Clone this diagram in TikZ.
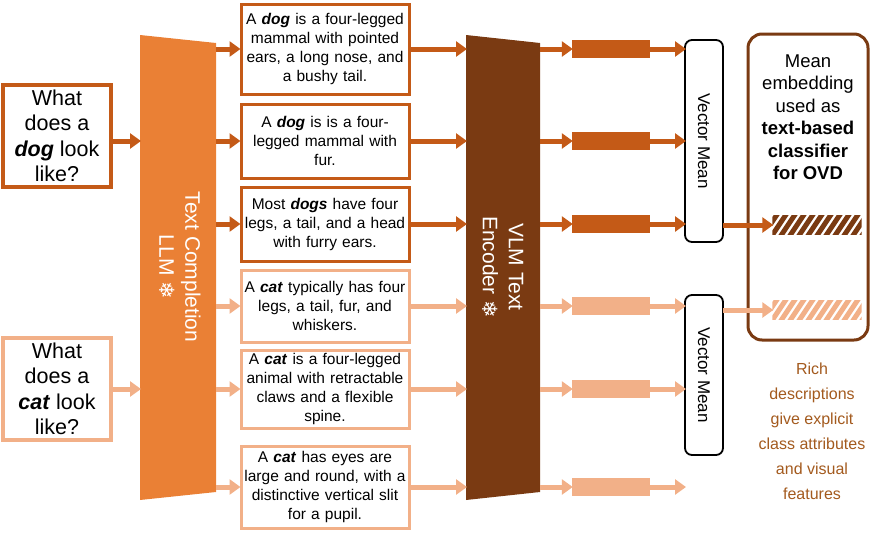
\documentclass[tikz,border=0pt]{standalone}
\usepackage{fontspec}
\setmainfont{Liberation Sans}
\newfontfamily\djv{DejaVu Sans}
\usetikzlibrary{arrows.meta,positioning}
\definecolor{dogc}{HTML}{C45A17}
\definecolor{catc}{HTML}{F2B088}
\definecolor{llmc}{HTML}{EA8035}
\definecolor{encc}{HTML}{7A3A12}
\definecolor{richc}{HTML}{A35A1E}
\newcommand{\snow}{{\djv ❄}}
\begin{document}
\begin{tikzpicture}[x=1pt,y=-1pt,
  desc/.style={draw, line width=3pt, fill=white, align=center, font=\fontsize{15.5}{19}\selectfont, text width=166pt, inner sep=1pt},
  dogd/.style={desc, draw=dogc},
  catd/.style={desc, draw=catc},
  q/.style={draw, line width=3.5pt, align=center, font=\fontsize{21.5}{25.5}\selectfont, minimum width=108pt, minimum height=102pt, inner sep=1pt},
  arr/.style={line width=5pt, -{Triangle[length=11pt,width=15pt]}, shorten >=-1pt},
  bar/.style={minimum width=78pt, minimum height=18pt, inner sep=0pt},
  vm/.style={draw, line width=1.8pt, rounded corners=7pt, minimum width=38pt, inner sep=0pt}
]
\useasboundingbox (0,0) rectangle (878,547);
% question boxes
\node[q, draw=dogc] (qd) at (57,136) {What\\does a\\\textbf{\textit{dog}} look\\like?};
\node[q, draw=catc] (qc) at (57,389) {What\\does a\\\textbf{\textit{cat}} look\\like?};
% LLM
\fill[llmc] (140,35) -- (216,43) -- (216,492) -- (140,500) -- cycle;
\node[rotate=-90, text=white, align=center, font=\fontsize{21}{26}\selectfont] (llm) at (180,267) {Text Completion\\LLM \snow};
\coordinate (llmL1) at (140,141); \coordinate (llmL2) at (140,389);
% encoder
\fill[encc] (466,35) -- (540,43) -- (540,492) -- (466,500) -- cycle;
\node[rotate=-90, text=white, align=center, font=\fontsize{21}{26}\selectfont] (enc) at (503,267) {VLM Text\\Encoder \snow};
% descriptions
\node[dogd, minimum height=90pt] (d1) at (325,49) {A \textbf{\textit{dog}} is a four-legged\\mammal with pointed\\ears, a long nose, and\\a bushy tail.};
\node[dogd, minimum height=74pt] (d2) at (325,141) {A \textbf{\textit{dog}} is is a four-\\legged mammal with\\fur.};
\node[dogd, minimum height=74pt] (d3) at (325,224) {Most \textbf{\textit{dogs}} have four\\legs, a tail, and a head\\with furry ears.};
\node[catd, minimum height=72pt] (c1) at (325,306) {A \textbf{\textit{cat}} typically has four\\legs, a tail, fur, and\\whiskers.};
\node[catd, minimum height=78pt] (c2) at (325,389) {A \textbf{\textit{cat}} is a four-legged\\animal with retractable\\claws and a flexible\\spine.};
\node[catd, minimum height=82pt] (c3) at (325,487) {A \textbf{\textit{cat}} has eyes are\\large and round, with a\\distinctive vertical slit\\for a pupil.};
% inputs
\draw[arr, dogc] (qd.east |- llmL1) -- (llmL1);
\draw[arr, catc] (qc.east |- llmL2) -- (llmL2);
% vector means
\node[vm, minimum height=202pt] (vm1) at (704,141) {}; \node[rotate=-90, font=\fontsize{17}{20}\selectfont] at (vm1) {Vector Mean};
\node[vm, minimum height=160pt] (vm2) at (704,375) {}; \node[rotate=-90, font=\fontsize{17}{20}\selectfont] at (vm2) {Vector Mean};
\foreach \n/\y/\c in {d1/49/dogc, d2/141/dogc, d3/224/dogc, c1/306/catc, c2/389/catc, c3/487/catc}{
  \coordinate (a\n) at (216,\y); \coordinate (e\n) at (466,\y); \coordinate (f\n) at (540,\y);
  \coordinate (g\n) at (685,\y);
  \node[bar, fill=\c] (b\n) at (611,\y) {};
  \draw[arr, \c] (a\n) -- (\n.west);
  \draw[arr, \c] (\n.east) -- (e\n);
  \draw[arr, \c] (f\n) -- (b\n.west);
  \draw[arr, \c] (b\n.east) -- (g\n);
}
% big box
\node[draw=encc, line width=3pt, rounded corners=14pt, minimum width=120pt, minimum height=306pt] (big) at (808,187) {};
\node[align=center, font=\fontsize{18.5}{22.5}\selectfont, anchor=north] (bt) at (808,51) {Mean\\embedding\\used as\\\textbf{text-based}\\\textbf{classifier}\\\textbf{for OVD}};
% hatched bars
\node[bar, minimum width=89pt, fill=white] (h1) at (817,225) {};
\node[bar, minimum width=89pt, fill=white] (h2) at (817,310) {};
\begin{scope}
\clip (h1.south west) rectangle (h1.north east);
\foreach \i in {0,...,14}{\draw[encc, line width=5pt] (760+\i*9,240) -- (780+\i*9,210);}
\end{scope}
\begin{scope}
\clip (h2.south west) rectangle (h2.north east);
\foreach \i in {0,...,14}{\draw[catc, line width=5pt] (760+\i*9,325) -- (780+\i*9,295);}
\end{scope}
\coordinate (vo1) at (723,225); \coordinate (vo2) at (723,310);
\draw[arr, dogc] (vo1) -- (h1.west);
\draw[arr, catc] (vo2) -- (h2.west);
\node[text=richc, align=center, font=\fontsize{16}{25}\selectfont] (rich) at (812,431) {Rich\\descriptions\\give explicit\\class attributes\\and visual\\features};
\end{tikzpicture}
\end{document}
